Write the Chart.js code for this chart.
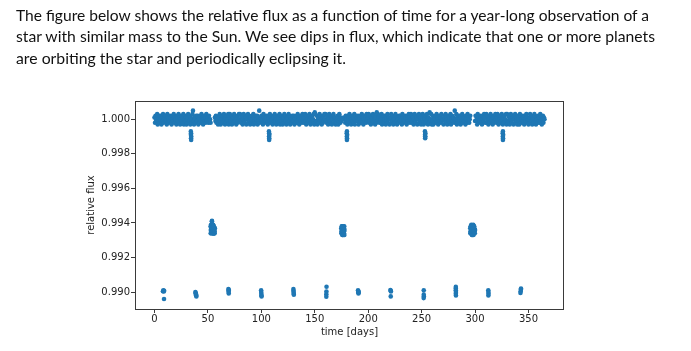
<!DOCTYPE html>
<html>
<head>
<meta charset="utf-8">
<script src="https://cdn.jsdelivr.net/npm/chart.js@4.4.1/dist/chart.umd.min.js"></script>
<style>
html,body{margin:0;padding:0;background:#fff;}
#wrap{position:relative;width:691px;height:351px;overflow:hidden;background:#fff;}
#c{position:absolute;left:0;top:0;}
.ln{position:absolute;left:16px;white-space:nowrap;font-family:Lato,"Open Sans",sans-serif;font-size:14.4px;line-height:20px;color:#111;transform-origin:0 0;}
</style>
</head>
<body>
<div id="wrap">
<canvas id="c" width="691" height="351"></canvas>
<div class="ln" style="top:5.9px">The figure below shows the relative flux as a function of time for a year-long observation of a</div>
<div class="ln" style="top:27.4px">star with similar mass to the Sun. We see dips in flux, which indicate that one or more planets</div>
<div class="ln" style="top:48.9px">are orbiting the star and periodically eclipsing it.</div>
</div>
<script>
// ---------- data ----------
const xTicks = [0, 50, 100, 150, 200, 250, 300, 350];
const xTickLabels = ["0", "50", "100", "150", "200", "250", "300", "350"];
const yTicks = [0.990, 0.992, 0.994, 0.996, 0.998, 1.000];
const yTickLabels = ["0.990", "0.992", "0.994", "0.996", "0.998", "1.000"];

// out-of-transit band
const bandTimeA = [
0,0.5,1,1.5,2,2.5,3,3.5,4,4.5,5,5.5,6,6.5,7,7.5,8,8.5,9,9.5,
10,10.5,11,11.5,12,12.5,13,13.5,14,14.5,15,15.5,16,16.5,17,17.5,18,18.5,19,19.5,
20,20.5,21,21.5,22,22.5,23,23.5,24,24.5,25,25.5,26,26.5,27,27.5,28,28.5,29,29.5,
30,30.5,31,31.5,32,32.5,33,33.5,34,34.5,35,35.5,36,36.5,37,37.5,38,38.5,39,39.5,
40,40.5,41,41.5,42,42.5,43,43.5,44,44.5,45,45.5,46,46.5,47,47.5,48,48.5,49,49.5,
50,50.5,51,51.5,52,52.5];
const bandFluxA = [
1.0001,0.9998,1.0002,0.9999,1.0000,1.0003,0.9997,1.0001,0.9999,1.0002,0.9998,1.0000,1.0002,0.9997,1.0001,0.9999,1.0003,0.9998,1.0000,1.0001,
1.0002,0.9999,1.0000,0.9997,1.0003,1.0001,0.9998,1.0000,0.9999,1.0002,1.0001,0.9998,0.9997,1.0002,1.0000,0.9999,1.0003,1.0001,0.9998,1.0000,
1.0000,0.9997,1.0002,1.0001,0.9999,1.0003,0.9998,1.0001,0.9997,1.0000,1.0002,0.9999,1.0001,0.9998,1.0003,0.9997,1.0000,1.0002,0.9999,1.0001,
0.9997,1.0000,1.0001,1.0003,0.9998,1.0002,0.9999,0.9997,1.0001,1.0000,0.9998,1.0003,1.0005,0.9999,0.9997,1.0001,1.0000,0.9998,1.0002,0.9999,
0.9999,1.0002,0.9997,1.0001,1.0000,0.9998,1.0002,0.9999,1.0003,0.9998,1.0001,0.9997,1.0000,1.0002,0.9999,1.0001,0.9998,1.0003,0.9999,1.0000,
1.0001,0.9998,1.0002,0.9999,1.0000,0.9998];

const bandTimeB = [
56.5,57,57.5,58,58.5,59,59.5,
60,60.5,61,61.5,62,62.5,63,63.5,64,64.5,65,65.5,66,66.5,67,67.5,68,68.5,69,69.5,
70,70.5,71,71.5,72,72.5,73,73.5,74,74.5,75,75.5,76,76.5,77,77.5,78,78.5,79,79.5,
80,80.5,81,81.5,82,82.5,83,83.5,84,84.5,85,85.5,86,86.5,87,87.5,88,88.5,89,89.5,
90,90.5,91,91.5,92,92.5,93,93.5,94,94.5,95,95.5,96,96.5,97,97.5,98,98.5,99,99.5,
100,100.5,101,101.5,102,102.5,103,103.5,104,104.5,105,105.5,106,106.5,107,107.5,108,108.5,109,109.5,
110,110.5,111,111.5,112,112.5,113,113.5,114,114.5,115,115.5,116,116.5,117,117.5,118,118.5,119,119.5,
120,120.5,121,121.5,122,122.5,123,123.5,124,124.5,125,125.5,126,126.5,127,127.5,128,128.5,129,129.5,
130,130.5,131,131.5,132,132.5,133,133.5,134,134.5,135,135.5,136,136.5,137,137.5,138,138.5,139,139.5,
140,140.5,141,141.5,142,142.5,143,143.5,144,144.5,145,145.5,146,146.5,147,147.5,148,148.5,149,149.5,
150,150.5,151,151.5,152,152.5,153,153.5,154,154.5,155,155.5,156,156.5,157,157.5,158,158.5,159,159.5,
160,160.5,161,161.5,162,162.5,163,163.5,164,164.5,165,165.5,166,166.5,167,167.5,168,168.5,169,169.5,
170,170.5,171,171.5,172,172.5,173,173.5,174,174.5,175];
const bandFluxB = [
1.0001,0.9999,1.0002,0.9998,1.0001,1.0000,0.9997,
0.9998,1.0001,1.0003,0.9999,0.9997,1.0002,1.0000,0.9998,1.0002,0.9999,1.0003,1.0000,0.9997,1.0001,0.9998,1.0002,0.9999,1.0000,1.0003,0.9997,
1.0001,1.0003,0.9998,0.9999,1.0002,0.9997,1.0000,1.0001,0.9998,1.0003,0.9999,1.0002,1.0000,0.9997,1.0001,0.9998,1.0002,0.9999,1.0003,1.0000,
1.0003,0.9999,0.9998,1.0002,1.0001,0.9997,1.0000,1.0003,0.9999,0.9998,1.0002,1.0001,0.9997,1.0000,1.0002,1.0003,0.9998,0.9999,1.0001,0.9997,
1.0001,0.9998,1.0002,0.9999,1.0000,1.0003,0.9997,1.0001,0.9999,1.0002,0.9998,1.0000,1.0002,0.9997,1.0001,0.9999,1.0005,0.9998,1.0000,1.0001,
1.0002,0.9999,1.0000,0.9997,1.0003,1.0001,0.9998,1.0000,0.9999,1.0002,1.0001,0.9998,0.9997,1.0002,1.0000,0.9999,1.0003,1.0001,0.9998,1.0000,
1.0000,0.9997,1.0002,1.0001,0.9999,1.0003,0.9998,1.0001,0.9997,1.0000,1.0002,0.9999,1.0001,0.9998,1.0003,0.9997,1.0000,1.0002,0.9999,1.0001,
0.9997,1.0000,1.0001,1.0003,0.9998,1.0002,0.9999,0.9997,1.0001,1.0000,0.9998,1.0003,1.0002,0.9999,0.9997,1.0001,1.0000,0.9998,1.0002,0.9999,
0.9999,1.0002,0.9997,1.0001,1.0000,0.9998,1.0002,0.9999,1.0003,0.9998,1.0001,0.9997,1.0000,1.0002,0.9999,1.0001,0.9998,1.0003,0.9999,1.0000,
0.9998,1.0001,1.0003,0.9999,0.9997,1.0002,1.0000,0.9998,1.0002,0.9999,1.0003,1.0000,0.9997,1.0001,0.9998,1.0002,0.9999,1.0000,1.0003,0.9997,
1.0004,1.0003,0.9998,0.9999,1.0002,0.9997,1.0000,1.0001,0.9998,1.0003,0.9999,1.0002,1.0000,0.9997,1.0001,0.9998,1.0002,0.9999,1.0003,1.0000,
1.0003,0.9999,0.9998,1.0002,1.0001,0.9997,1.0000,1.0003,0.9999,0.9998,1.0002,1.0001,0.9997,1.0000,1.0002,1.0003,0.9998,0.9999,1.0001,0.9997,
1.0001,0.9998,1.0000,1.0002,0.9997,0.9999,1.0003,1.0000,0.9998,1.0001,0.9999];

const bandTimeC = [
177.5,178,178.5,179,179.5,
180,180.5,181,181.5,182,182.5,183,183.5,184,184.5,185,185.5,186,186.5,187,187.5,188,188.5,189,189.5,
190,190.5,191,191.5,192,192.5,193,193.5,194,194.5,195,195.5,196,196.5,197,197.5,198,198.5,199,199.5,
200,200.5,201,201.5,202,202.5,203,203.5,204,204.5,205,205.5,206,206.5,207,207.5,208,208.5,209,209.5,
210,210.5,211,211.5,212,212.5,213,213.5,214,214.5,215,215.5,216,216.5,217,217.5,218,218.5,219,219.5,
220,220.5,221,221.5,222,222.5,223,223.5,224,224.5,225,225.5,226,226.5,227,227.5,228,228.5,229,229.5,
230,230.5,231,231.5,232,232.5,233,233.5,234,234.5,235,235.5,236,236.5,237,237.5,238,238.5,239,239.5,
240,240.5,241,241.5,242,242.5,243,243.5,244,244.5,245,245.5,246,246.5,247,247.5,248,248.5,249,249.5,
250,250.5,251,251.5,252,252.5,253,253.5,254,254.5,255,255.5,256,256.5,257,257.5,258,258.5,259,259.5,
260,260.5,261,261.5,262,262.5,263,263.5,264,264.5,265,265.5,266,266.5,267,267.5,268,268.5,269,269.5,
270,270.5,271,271.5,272,272.5,273,273.5,274,274.5,275,275.5,276,276.5,277,277.5,278,278.5,279,279.5,
280,280.5,281,281.5,282,282.5,283,283.5,284,284.5,285,285.5,286,286.5,287,287.5,288,288.5,289,289.5,
290,290.5,291,291.5,292,292.5,293,293.5,294,294.5,295,295.5];
const bandFluxC = [
1.0001,1.0000,0.9998,1.0002,0.9999,
1.0000,0.9997,1.0002,1.0001,0.9999,1.0003,0.9998,1.0001,0.9997,1.0000,1.0002,0.9999,1.0001,0.9998,1.0003,0.9997,1.0000,1.0002,0.9999,1.0001,
0.9999,1.0002,0.9997,1.0001,1.0000,0.9998,1.0002,0.9999,1.0003,0.9998,1.0001,0.9997,1.0000,1.0002,0.9999,1.0001,0.9998,1.0003,0.9999,1.0000,
1.0001,1.0003,0.9998,0.9999,1.0002,0.9997,1.0000,1.0001,0.9998,1.0003,0.9999,1.0002,1.0000,0.9997,1.0001,0.9998,1.0004,0.9999,1.0003,1.0000,
1.0001,0.9998,1.0002,0.9999,1.0000,1.0003,0.9997,1.0001,0.9999,1.0002,0.9998,1.0000,1.0002,0.9997,1.0001,0.9999,1.0003,0.9998,1.0000,1.0001,
0.9997,1.0000,1.0001,1.0003,0.9998,1.0002,0.9999,0.9997,1.0001,1.0000,0.9998,1.0003,1.0002,0.9999,0.9997,1.0001,1.0000,0.9998,1.0002,0.9999,
1.0002,0.9999,1.0000,0.9997,1.0003,1.0001,0.9998,1.0000,0.9999,1.0002,1.0001,0.9998,0.9997,1.0002,1.0000,0.9999,1.0003,1.0001,0.9998,1.0000,
1.0003,0.9999,0.9998,1.0002,1.0001,0.9997,1.0000,1.0003,0.9999,0.9998,1.0002,1.0001,0.9997,1.0000,1.0002,1.0003,0.9998,0.9999,1.0001,0.9997,
0.9998,1.0001,1.0003,0.9999,0.9997,1.0002,1.0000,0.9998,1.0002,0.9999,1.0003,1.0000,0.9997,1.0001,0.9998,1.0004,0.9999,1.0000,1.0003,0.9997,
0.9999,1.0002,0.9997,1.0001,1.0000,0.9998,1.0002,0.9999,1.0003,0.9998,1.0001,0.9997,1.0000,1.0002,0.9999,1.0001,0.9998,1.0003,0.9999,1.0000,
1.0000,0.9997,1.0002,1.0001,0.9999,1.0003,0.9998,1.0001,0.9997,1.0000,1.0002,0.9999,1.0001,0.9998,1.0003,0.9997,1.0000,1.0002,0.9999,1.0001,
1.0001,0.9998,1.0005,0.9999,1.0000,1.0003,0.9997,1.0001,0.9999,1.0002,0.9998,1.0000,1.0002,0.9997,1.0001,0.9999,1.0003,0.9998,1.0000,1.0001,
0.9999,1.0001,0.9997,1.0002,1.0000,0.9998,1.0003,0.9999,1.0001,0.9998,1.0000,1.0002];

const bandTimeD = [
300,300.5,301,301.5,302,302.5,303,303.5,304,304.5,305,305.5,306,306.5,307,307.5,308,308.5,309,309.5,
310,310.5,311,311.5,312,312.5,313,313.5,314,314.5,315,315.5,316,316.5,317,317.5,318,318.5,319,319.5,
320,320.5,321,321.5,322,322.5,323,323.5,324,324.5,325,325.5,326,326.5,327,327.5,328,328.5,329,329.5,
330,330.5,331,331.5,332,332.5,333,333.5,334,334.5,335,335.5,336,336.5,337,337.5,338,338.5,339,339.5,
340,340.5,341,341.5,342,342.5,343,343.5,344,344.5,345,345.5,346,346.5,347,347.5,348,348.5,349,349.5,
350,350.5,351,351.5,352,352.5,353,353.5,354,354.5,355,355.5,356,356.5,357,357.5,358,358.5,359,359.5,
360,360.5,361,361.5,362,362.5,363,363.5,364,364.5,365];
const bandFluxD = [
0.9999,1.0002,0.9999,1.0000,0.9997,1.0003,1.0001,0.9998,1.0000,0.9999,1.0002,1.0001,0.9998,0.9997,1.0002,1.0000,0.9999,1.0003,1.0001,0.9998,
1.0001,1.0003,0.9998,0.9999,1.0002,0.9997,1.0000,1.0001,0.9998,1.0003,0.9999,1.0002,1.0000,0.9997,1.0001,0.9998,1.0002,0.9999,1.0003,1.0000,
0.9998,1.0001,1.0003,0.9999,0.9997,1.0002,1.0000,0.9998,1.0002,0.9999,1.0003,1.0000,0.9997,1.0001,0.9998,1.0002,0.9999,1.0000,1.0003,0.9997,
1.0003,0.9999,0.9998,1.0002,1.0001,0.9997,1.0000,1.0003,0.9999,0.9998,1.0002,1.0001,0.9997,1.0000,1.0002,1.0003,0.9998,0.9999,1.0001,0.9997,
1.0002,0.9999,1.0000,0.9997,1.0003,1.0001,0.9998,1.0000,0.9999,1.0002,1.0001,0.9998,0.9997,1.0002,1.0000,0.9999,1.0003,1.0001,0.9998,1.0000,
0.9997,1.0000,1.0001,1.0003,0.9998,1.0002,0.9999,0.9997,1.0001,1.0000,0.9998,1.0003,1.0002,0.9999,0.9997,1.0001,1.0000,0.9998,1.0002,0.9999,
1.0001,0.9998,1.0003,0.9999,1.0002,0.9997,1.0000,1.0002,0.9998,1.0001,1.0000];

// deep transits (~0.9937)
const deepTime1 = [52.5,52.7,52.9,53.1,53.3,53.5,53.7,53.9,54.1,54.3,54.5,54.7,54.9,55.1,55.3,55.5,55.7,55.9,56.1,56.3,56.5,52.6,53.0,53.4,53.8,54.2,54.6,55.0,55.4,55.8,56.2,53.8];
const deepFlux1 = [0.9938,0.9936,0.9939,0.9935,0.9937,0.9939,0.9941,0.9934,0.9936,0.9938,0.9935,0.9937,0.9939,0.9934,0.9936,0.9938,0.9935,0.9937,0.9936,0.9934,0.9937,0.9934,0.9938,0.9935,0.9937,0.9939,0.9934,0.9936,0.9938,0.9934,0.9935,0.99412];
const deepTime2 = [174.8,175.0,175.2,175.4,175.6,175.8,176.0,176.2,176.4,176.6,176.8,177.0,177.2,177.4,177.6,177.8,174.9,175.3,175.7,176.1,176.5,176.9,177.3,177.7];
const deepFlux2 = [0.9937,0.9935,0.9938,0.9934,0.9936,0.9933,0.9937,0.9935,0.9938,0.9934,0.9936,0.9933,0.9937,0.9935,0.9938,0.9936,0.9934,0.9936,0.9938,0.9933,0.9935,0.9937,0.9934,0.9933];
const deepTime3 = [295.5,295.7,295.9,296.1,296.3,296.5,296.7,296.9,297.1,297.3,297.5,297.7,297.9,298.1,298.3,298.5,298.7,298.9,299.1,299.3,299.5,299.7,300.0,295.6,296.2,296.8,297.4,298.0,298.6,299.2,299.8];
const deepFlux3 = [0.9937,0.9935,0.9938,0.9934,0.9936,0.9939,0.9935,0.9937,0.9933,0.9936,0.9938,0.9934,0.9937,0.9935,0.9939,0.9933,0.9936,0.9938,0.9934,0.9937,0.9935,0.9936,0.9936,0.9934,0.9938,0.9936,0.9933,0.9937,0.9935,0.9938,0.9934];

// shallow transits (~0.9990)
const shallowTime = [34.0,34.1,34.2,34.3,34.4,34.2, 107.1,107.2,107.3,107.4,107.5,107.3, 179.9,180.0,180.1,180.2,180.3,180.1, 253.1,253.2,253.3,253.4,253.5,253.3, 325.9,326.0,326.1,326.2,326.3,326.1];
const shallowFlux = [0.9993,0.9991,0.9989,0.9988,0.9990,0.9992, 0.9993,0.9990,0.9988,0.9989,0.9991,0.9992, 0.9992,0.9990,0.9988,0.9989,0.9991,0.9993, 0.9993,0.9991,0.9989,0.9990,0.9992,0.9990, 0.9992,0.9990,0.9988,0.9989,0.9991,0.9993];

// deepest level (~0.9900)
const lowTime = [7.9,8.3,8.7,9.0,8.9, 38.3,38.6,38.9,39.2,38.5,39.0, 69.2,69.3,69.4,69.5,69.6, 99.8,99.9,100.0,100.1,100.2, 130.0,130.1,130.2,130.3,130.4, 161.0,160.9,160.8,160.8, 190.5,190.8,191.1,190.9,190.6, 220.8,221.1,221.3,221.1, 252.0,252.0,252.1,251.9, 282.0,282.0,282.0,282.1,282.0,282.1, 312.4,312.5,312.6,312.5, 342.5,342.7,342.9,343.0];
const lowFlux = [0.99005,0.99010,0.99003,0.99008,0.98960, 0.99000,0.98990,0.98980,0.98975,0.98995,0.98985, 0.99018,0.99008,0.99000,0.98992,0.99012, 0.99010,0.99000,0.98990,0.98980,0.98975, 0.99018,0.99008,0.99000,0.98990,0.98985, 0.99031,0.99003,0.98988,0.98973, 0.99010,0.99005,0.98998,0.98992,0.99000, 0.99012,0.99008,0.99003,0.98975, 0.99010,0.98985,0.98975,0.98965, 0.99030,0.99020,0.99010,0.99000,0.98990,0.98980, 0.99010,0.99000,0.98990,0.98980, 0.98995,0.99005,0.99015,0.99020];

// ---------- text scaling (paragraph) ----------
const lineWidths = [633, 639, 330];
document.querySelectorAll('.ln').forEach((el, i) => {
  const w = el.getBoundingClientRect().width;
  el.style.transform = 'scaleX(' + (lineWidths[i] / w) + ')';
});

// ---------- chart ----------
const pts = (t, f) => t.map((x, i) => ({x: x, y: f[i]}));
const blue = '#1f77b4';
const ds = (data) => ({data: data, backgroundColor: blue, borderColor: blue, pointRadius: 2.3, pointBorderWidth: 0, pointHoverRadius: 2.3});

const frame = {
  id: 'frame',
  afterDraw(c) {
    const a = c.chartArea, ctx = c.ctx;
    ctx.save();
    ctx.strokeStyle = '#3a3a3a';
    ctx.lineWidth = 1;
    ctx.strokeRect(Math.round(a.left) + 0.5, Math.round(a.top) + 0.5, Math.round(a.right - a.left) - 1, Math.round(a.bottom - a.top));
    ctx.restore();
  }
};

const tickFont = {family: 'DejaVu Sans', size: 10};
new Chart(document.getElementById('c'), {
  type: 'scatter',
  data: {
    datasets: [
      ds(pts(bandTimeA, bandFluxA)), ds(pts(bandTimeB, bandFluxB)),
      ds(pts(bandTimeC, bandFluxC)), ds(pts(bandTimeD, bandFluxD)),
      ds(pts(deepTime1, deepFlux1)), ds(pts(deepTime2, deepFlux2)), ds(pts(deepTime3, deepFlux3)),
      ds(pts(shallowTime, shallowFlux)), ds(pts(lowTime, lowFlux))
    ]
  },
  options: {
    responsive: false,
    animation: false,
    devicePixelRatio: 1,
    layout: {padding: {top: 101, left: 0, right: 127, bottom: 0}},
    plugins: {legend: {display: false}, tooltip: {enabled: false}},
    events: [],
    scales: {
      x: {
        type: 'linear', min: -18.25, max: 383.25,
        afterBuildTicks: (s) => { s.ticks = xTicks.map(v => ({value: v})); },
        afterFit: (s) => { s.height = 42; },
        ticks: {autoSkip: false, maxRotation: 0, font: tickFont, color: '#222', padding: 0,
                callback: (v, i) => xTickLabels[i]},
        grid: {display: true, drawOnChartArea: false, drawTicks: true, tickLength: 4, tickColor: '#3a3a3a', tickWidth: 1},
        border: {display: false},
        title: {display: true, text: 'time [days]', font: tickFont, color: '#222', padding: {top: 0, bottom: 13}}
      },
      y: {
        type: 'linear', min: 0.98902, max: 1.00106,
        afterBuildTicks: (s) => { s.ticks = yTicks.map(v => ({value: v})); },
        afterFit: (s) => { s.width = 135; },
        ticks: {autoSkip: false, font: tickFont, color: '#222', padding: 1,
                callback: (v, i) => yTickLabels[i]},
        grid: {display: true, drawOnChartArea: false, drawTicks: true, tickLength: 4, tickColor: '#3a3a3a', tickWidth: 1},
        border: {display: false},
        title: {display: true, text: 'relative flux', font: tickFont, color: '#222', padding: {top: 85, bottom: 0}}
      }
    }
  },
  plugins: [frame]
});
</script>
</body>
</html>
